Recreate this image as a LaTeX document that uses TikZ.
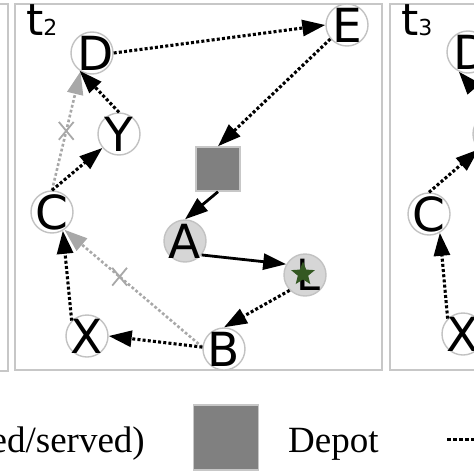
\documentclass[tikz,border=0pt]{standalone}
\usepackage{fontspec}
\setmainfont{Liberation Serif}
\newfontfamily\lblfont{DejaVu Sans}
\usetikzlibrary{arrows.meta,shapes.geometric,shapes.misc}
\definecolor{frame}{gray}{0.78}
\definecolor{ring}{gray}{0.76}
\definecolor{skip}{gray}{0.66}
\definecolor{served}{gray}{0.84}
\definecolor{depot}{gray}{0.5}
\definecolor{stargreen}{RGB}{52,88,34}
\begin{document}
\begin{tikzpicture}[x=1pt,y=-1pt,
  panel/.style={draw=frame,line width=2pt},
  cust/.style={circle,draw=ring,line width=1.4pt,fill=white,minimum size=42pt,inner sep=0pt},
  done/.style={cust,fill=served},
  letter/.style={inner sep=0pt,font=\lblfont\fontsize{47}{47}\selectfont},
  tip/.style={-{Triangle[length=23pt,width=16pt]}},
  route/.style={tip,line width=3.1pt,dash pattern=on 3pt off 2.2pt},
  drive/.style={tip,line width=2.8pt},
  dropped/.style={skip,line width=2.6pt,dash pattern=on 2.8pt off 2.2pt,-{Triangle[length=23pt,width=16pt]}},
  xmark/.style={cross out,draw=skip,solid,line width=1.8pt,minimum width=13pt,minimum height=16pt,inner sep=0pt},
  tlabel/.style={anchor=base west,inner sep=0pt,font=\lblfont},
  legtext/.style={inner sep=0pt,font=\fontsize{37}{37}\selectfont}
]
\useasboundingbox (0,0) rectangle (474,474);
\clip (0,0) rectangle (474,474);

% panels
\draw[panel] (-50,4) rectangle (8,371);
\draw[panel] (15,4) rectangle (382,370);
\draw[panel] (390,4) rectangle (560,370);

% time labels
\node[tlabel] (t2) at (26,35) {\fontsize{44}{44}\selectfont t\fontsize{22}{22}\selectfont 2};
\node[tlabel] (t3) at (401,35) {\fontsize{44}{44}\selectfont t\fontsize{22}{22}\selectfont 3};

% panel t2 nodes
\node[cust] (D) at (92,53) {};
\node[letter] (Dl) at ([xshift=4pt]D.center) {D};
\node[cust] (Y) at (119,134) {};
\node[letter] (Yl) at (Y) {Y};
\node[cust] (C) at (52,212) {};
\node[letter] (Cl) at (C) {C};
\node[cust] (X) at (87,336) {};
\node[letter] (Xl) at (X) {X};
\node[cust] (B) at (224,349) {};
\node[letter] (Bl) at (B) {B};
\node[cust] (E) at (347,25) {};
\node[letter] (El) at (E) {E};
\node[done] (A) at (185,241) {};
\node[letter] (Al) at (A) {A};
\node[done] (L) at (305,275) {};
\node[letter,font=\lblfont\fontsize{43}{43}\selectfont] (Ll) at ([xshift=3pt]L.center) {L};
\node[star,star points=5,star point ratio=2.3,fill=stargreen,minimum size=25pt,inner sep=0pt] (Lstar) at ([xshift=-2pt,yshift=1pt]L.center) {};
\node[draw=frame,line width=1.5pt,fill=depot,minimum size=44pt,inner sep=0pt] (dep) at (218,169) {};

% panel t3 nodes
\node[cust] (D3) at (468,52) {};
\node[letter] (D3l) at ([xshift=4pt]D3.center) {D};
\node[cust] (C3) at (429,214) {};
\node[letter] (C3l) at (C3) {C};
\node[cust] (X3) at (463,334) {};
\node[letter] (X3l) at (X3) {X};
\node[cust] (Y3) at (494,134) {};

% dropped (gray) links
\draw[dropped] (C.north) -- (D.238) node[xmark,pos=.5]{};
\draw[dropped] (B.175) -- (C.305) node[xmark,pos=.6]{};

% routes t2
\draw[route] (D.0) -- (E.180);
\draw[route] (E.220) -- (dep.north);
\draw[drive] (dep.south) -- (A.north);
\draw[drive] (A.320) -- (L.150);
\draw[route] (L.225) -- (B.north);
\draw[route] (B.175) -- (X.east);
\draw[route] (X.135) -- (C.300);
\draw[route] (C.north) -- (Y.220);
\draw[route] (Y.north) -- (D.235);

% routes t3
\draw[route] (X3.135) -- (C3.300);
\draw[route] (C3.north) -- (Y3.225);
\draw[route] (Y3.north) -- (D3.245);

% legend
\node[legtext,anchor=base east] (legserved) at (145,452) {ed/served)};
\node[draw=frame,line width=1.5pt,fill=depot,minimum size=65pt,inner sep=0pt] (legdep) at (226,437.5) {};
\node[legtext,anchor=base west] (legdeptext) at (288,452) {Depot};
\coordinate (legroute) at (447,439);
\coordinate (legrouteend) at (480,439);
\draw[line width=3pt,dash pattern=on 4pt off 2pt] (legroute) -- (legrouteend);
\end{tikzpicture}
\end{document}
